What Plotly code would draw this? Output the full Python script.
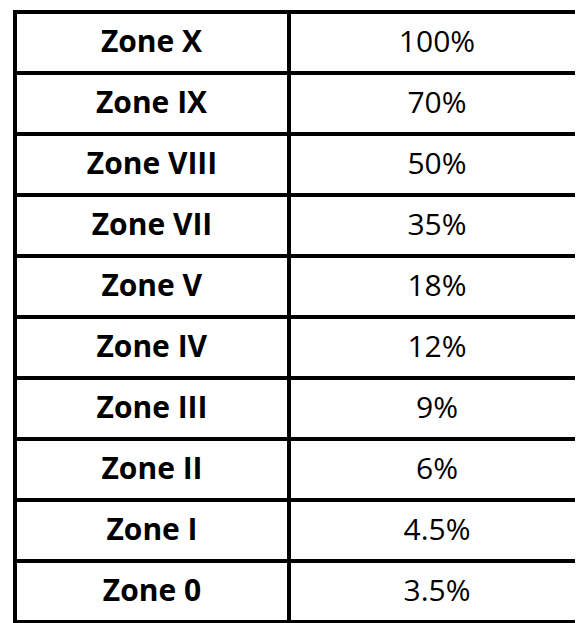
import plotly.graph_objects as go

zones = ["Zone X", "Zone IX", "Zone VIII", "Zone VII", "Zone V", "Zone IV",
         "Zone III", "Zone II", "Zone I", "Zone 0"]
values = ["100%", "70%", "50%", "35%", "18%", "12%", "9%", "6%", "4.5%", "3.5%"]

row_h = 61
font = dict(family="Open Sans", size=30, color="black")
line = dict(color="black", width=4)
fig = go.Figure(go.Table(
    columnwidth=[274, 296],
    header=dict(values=[f"<b>{zones[0]}</b>", f"<span>{values[0]}</span>"], height=row_h,
                align="center", fill_color="white", line=line, font=font),
    cells=dict(values=[[f"<b>{z}</b>" for z in zones[1:]],
                       [f"<span>{v}</span>" for v in values[1:]]],
               height=row_h, align="center", fill_color="white", line=line, font=font),
))
fig.update_layout(width=583, height=623, margin=dict(l=7, r=6, t=4, b=0),
                  paper_bgcolor="white")
fig.write_html("out.html")
